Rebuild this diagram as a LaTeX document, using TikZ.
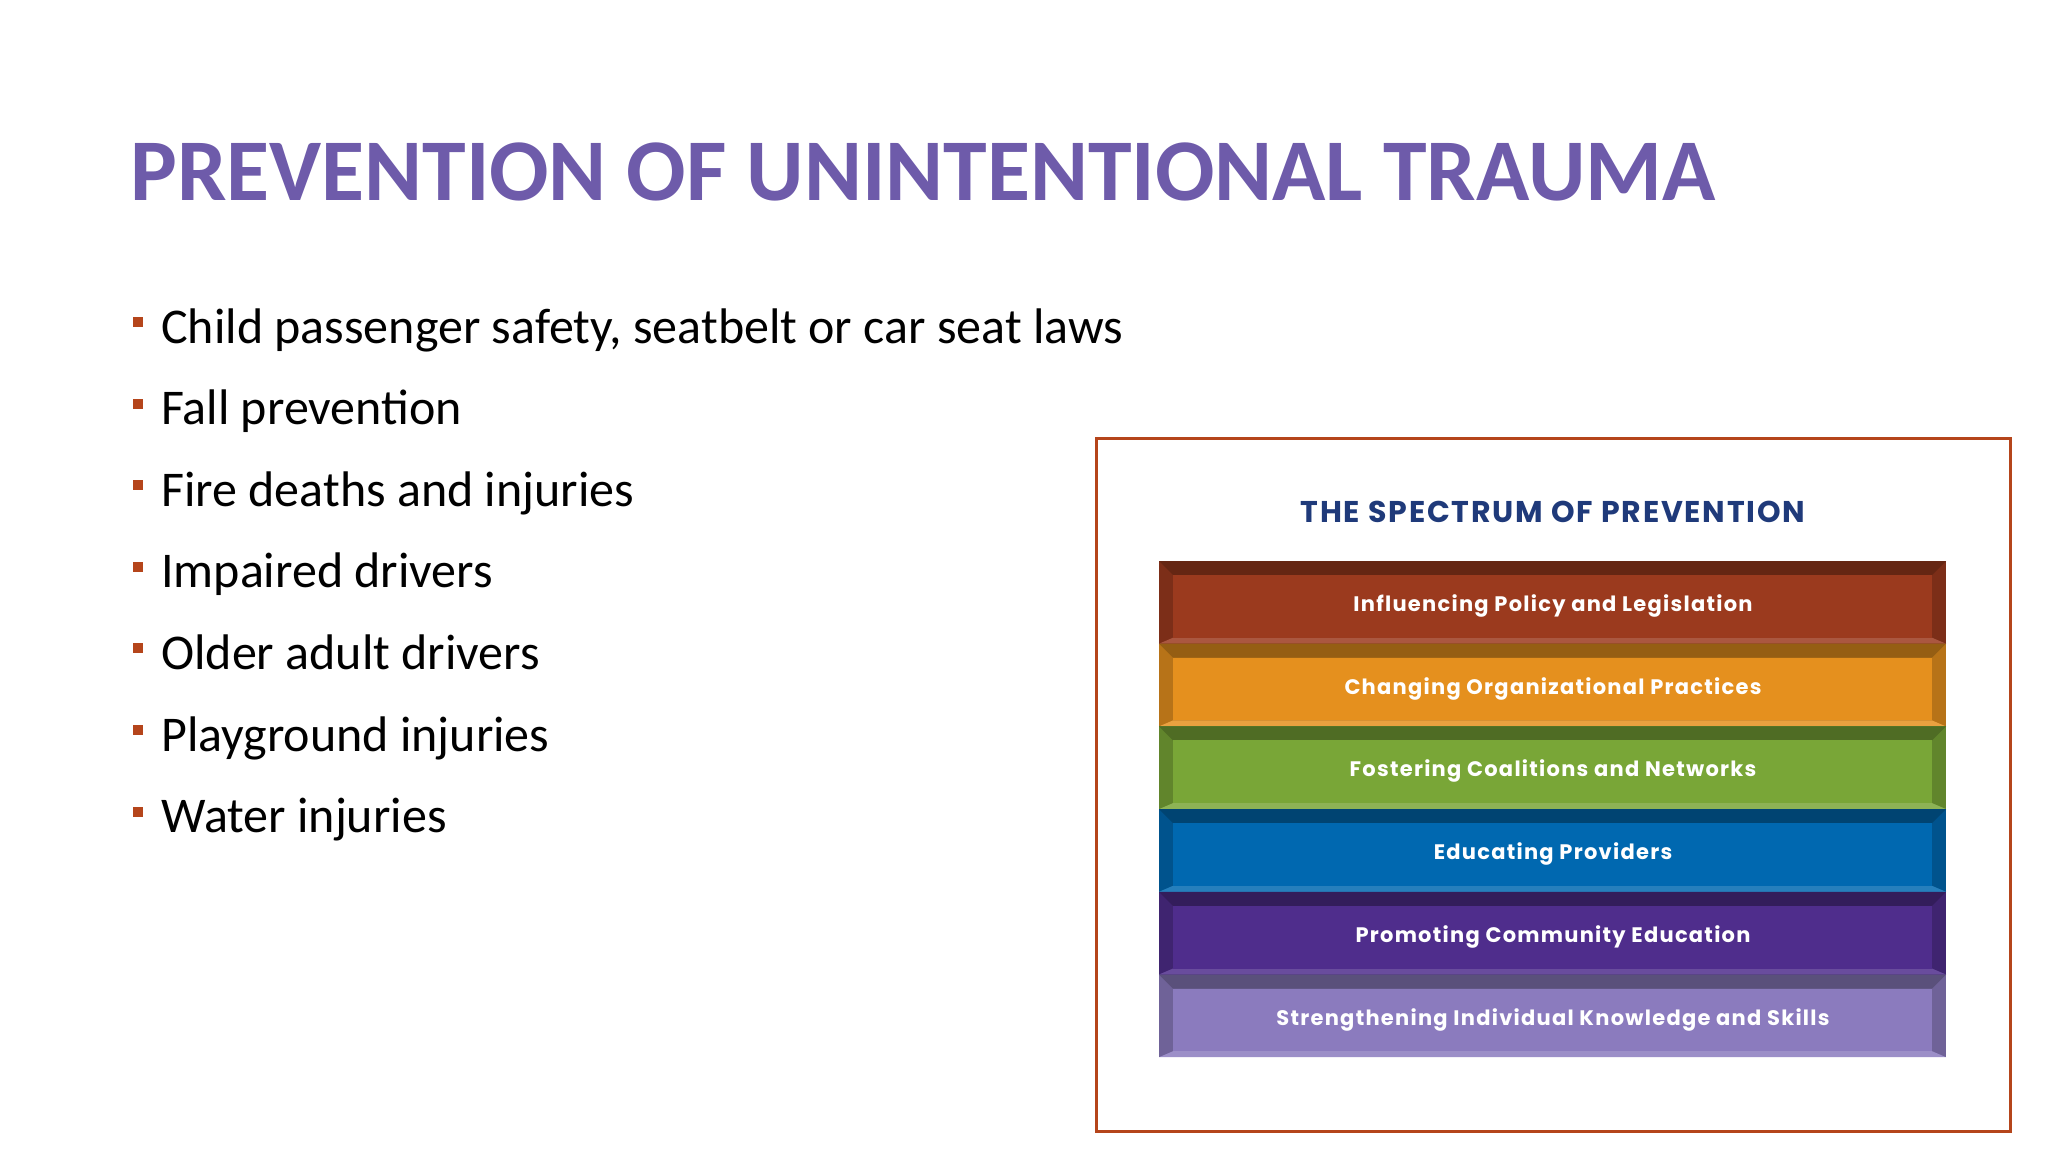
\documentclass[tikz,border=0pt]{standalone}
\usepackage{fontspec}
\setmainfont{Carlito}
\newfontfamily\bandfont[LetterSpace=6]{Poppins}
\definecolor{ttl}{HTML}{6E5BAA}
\definecolor{bul}{HTML}{B5451B}
\definecolor{navy}{HTML}{1F3A7A}
\definecolor{cA}{HTML}{9B3A1E}
\definecolor{cB}{HTML}{E5901E}
\definecolor{cC}{HTML}{79A637}
\definecolor{cD}{HTML}{0068B0}
\definecolor{cE}{HTML}{4F2D8C}
\definecolor{cF}{HTML}{8B7BBE}
\tikzset{bullettext/.style={anchor=base west,inner sep=0pt,font=\fontsize{50}{60}\selectfont},
 bandtext/.style={text=white,font=\bandfont\bfseries\fontsize{21}{24}\selectfont,inner sep=0pt}}
\begin{document}
\begin{tikzpicture}[x=1pt,y=-1pt]
\useasboundingbox[fill=white] (0,0) rectangle (2048,1152);
\node[anchor=base west,inner sep=0pt,text=ttl,font=\bfseries\fontsize{88}{100}\selectfont] (title) at (130,200) {PREVENTION OF UNINTENTIONAL TRAUMA};
\foreach \t [count=\i] in {{Child passenger safety, seatbelt or car seat laws},{Fall prevention},{Fire deaths and injuries},{Impaired drivers},{Older adult drivers},{Playground injuries},{Water injuries}}{
 \pgfmathsetmacro\yy{343+(\i-1)*81.6}
 \node[bullettext] (b\i) at (161,\yy) {\t};
 \fill[bul] (133,\yy-16) rectangle ++(10,-10);
}
\draw[bul,line width=3pt] (1096,438) rectangle (2010,1131);
\node[text=navy,font=\bandfont\bfseries\fontsize{30}{34}\selectfont,inner sep=0pt] (spt) at (1553,512) {THE SPECTRUM OF PREVENTION};
\foreach \c/\t [count=\i] in {cA/{Influencing Policy and Legislation},cB/{Changing Organizational Practices},cC/{Fostering Coalitions and Networks},cD/{Educating Providers},cE/{Promoting Community Education},cF/{Strengthening Individual Knowledge and Skills}}{
 \pgfmathsetmacro\yt{561+(\i-1)*82.7}
 \pgfmathsetmacro\yb{\yt+82.7}
 \fill[\c!80!black] (1159,\yt) rectangle (1946,\yb);
 \fill[\c!65!black] (1159,\yt) -- (1946,\yt) -- (1932,\yt+14) -- (1173,\yt+14) -- cycle;
 \fill[\c!85!white] (1159,\yb) -- (1946,\yb) -- (1932,\yb-6) -- (1173,\yb-6) -- cycle;
 \fill[\c] (1173,\yt+14) rectangle (1932,\yb-6);
 \node[bandtext] (n\i) at (1553,\yt+45) {\t};
}
\end{tikzpicture}
\end{document}
